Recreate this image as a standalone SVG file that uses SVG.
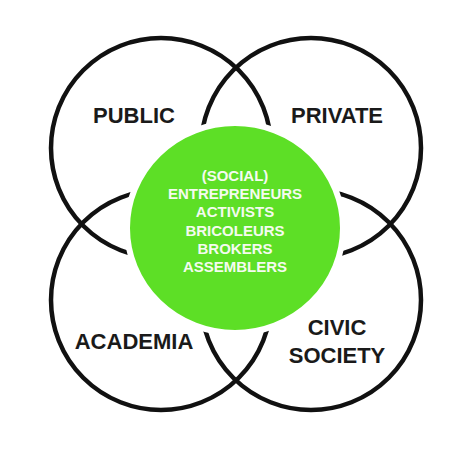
<svg xmlns="http://www.w3.org/2000/svg" width="474" height="474" viewBox="0 0 474 474">
<style>
.ring{fill:none;stroke:#111;stroke-width:4.5}
.lbl{font-family:"Liberation Sans",Arial,sans-serif;font-weight:bold;font-size:22px;fill:#1a1a1a;text-anchor:middle}
.in{font-family:"Liberation Sans",Arial,sans-serif;font-weight:bold;font-size:15px;fill:#f4fbef;text-anchor:middle}
</style>
<rect width="474" height="474" fill="#fff"/>
<g id="connectors">
<circle class="ring" cx="161" cy="148" r="110"/>
<circle class="ring" cx="311" cy="148" r="110"/>
<circle class="ring" cx="161" cy="300" r="110"/>
<circle class="ring" cx="311" cy="300" r="110"/>
</g>
<g id="public"><text class="lbl" x="134" y="123">PUBLIC</text></g>
<g id="private"><text class="lbl" x="337" y="123">PRIVATE</text></g>
<g id="academia"><text class="lbl" x="134" y="349">ACADEMIA</text></g>
<g id="civic"><text class="lbl" x="337" y="335">CIVIC</text><text class="lbl" x="337" y="363">SOCIETY</text></g>
<g id="center">
<ellipse cx="235" cy="228" rx="108" ry="105" fill="#5ddf26" stroke="#fff" stroke-width="6"/>
<text class="in" x="235" y="181">(SOCIAL)</text>
<text class="in" x="235" y="199">ENTREPRENEURS</text>
<text class="in" x="235" y="217">ACTIVISTS</text>
<text class="in" x="235" y="236">BRICOLEURS</text>
<text class="in" x="235" y="254">BROKERS</text>
<text class="in" x="235" y="272">ASSEMBLERS</text>
</g>
</svg>
